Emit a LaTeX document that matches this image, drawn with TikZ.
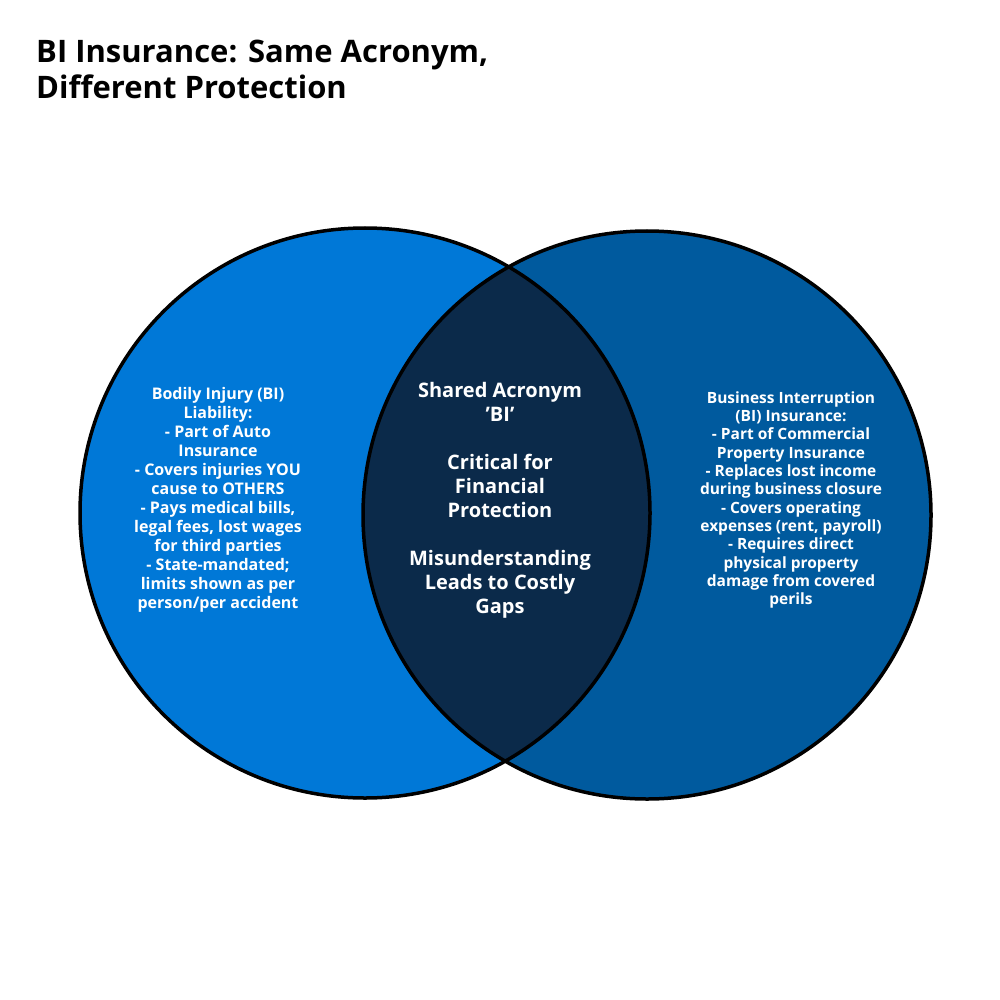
\documentclass[tikz,border=0pt]{standalone}
\usepackage{fontspec}
\setmainfont{Open Sans}
\definecolor{autoblue}{HTML}{0078D7}
\definecolor{bizblue}{HTML}{005A9E}
\definecolor{lensblue}{HTML}{0B2A4A}
\begin{document}
\begin{tikzpicture}[x=1pt,y=-1pt]
    % Define the styles for the sets and labels
    \tikzset{set/.style={draw=black, line width=3.5pt},
             label/.style={text=white, font=\bfseries, align=center, inner sep=0pt}}
    \useasboundingbox (0,0) rectangle (1000,1000);

    % Draw the circles and their overlap
    \fill[autoblue] (365,513) circle (285);
    \fill[bizblue] (647,515) circle (284);
    \begin{scope}
        \clip (365,513) circle (285);
        \fill[lensblue] (647,515) circle (284);
    \end{scope}
    \draw[set] (365,513) circle (285);
    \draw[set] (647,515) circle (284);

    % Draw the texts
    \node[anchor=north west, font=\bfseries\fontsize{31}{36}\selectfont, align=left, inner sep=0pt] (title) at (36,40)
        {BI Insurance: Same Acronym,\\Different Protection};
    \node[label, font=\bfseries\fontsize{16}{19}\selectfont] (auto) at (218,500)
        {Bodily Injury (BI)\\Liability:\\- Part of Auto\\Insurance\\- Covers injuries YOU\\cause to OTHERS\\- Pays medical bills,\\legal fees, lost wages\\for third parties\\- State-mandated;\\limits shown as per\\person/per accident};
    \node[label, font=\bfseries\fontsize{20}{24}\selectfont] (shared) at (500,500)
        {Shared Acronym\\'BI'\\[24pt]Critical for\\Financial\\Protection\\[24pt]Misunderstanding\\Leads to Costly\\Gaps};
    \node[label, font=\bfseries\fontsize{15.5}{18.3}\selectfont] (business) at (791,500)
        {Business Interruption\\(BI) Insurance:\\- Part of Commercial\\Property Insurance\\- Replaces lost income\\during business closure\\- Covers operating\\expenses (rent, payroll)\\- Requires direct\\physical property\\damage from covered\\perils};
\end{tikzpicture}
\end{document}
